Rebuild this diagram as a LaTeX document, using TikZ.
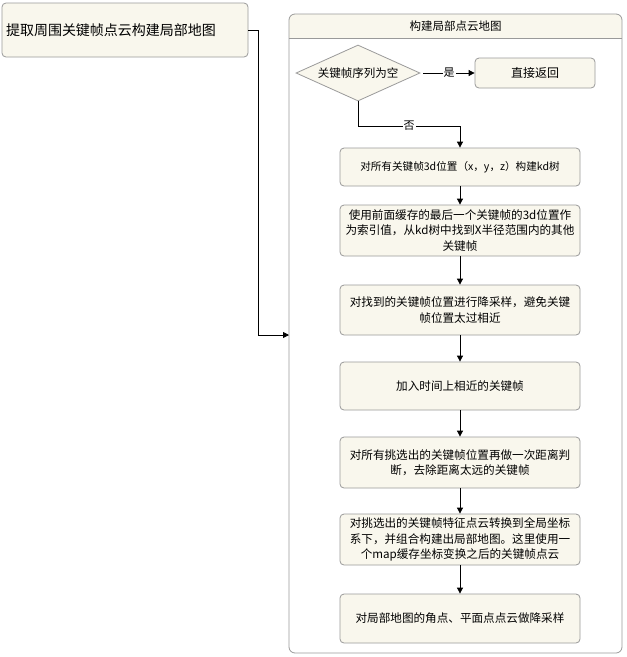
\documentclass[tikz,border=0pt]{standalone}
\usepackage{fontspec}
\setmainfont{Noto Sans CJK SC}
\usetikzlibrary{shapes.geometric,arrows.meta}
\definecolor{boxfill}{HTML}{F9F7ED}
\definecolor{boxline}{HTML}{9A9A9A}
\begin{document}
\begin{tikzpicture}[x=1pt,y=-1pt,
  box/.style={draw=boxline,fill=boxfill,rounded corners=4pt,line width=0.8pt,align=center,font=\fontsize{11.6}{15.5}\selectfont,inner sep=0pt},
  arr/.style={-{Triangle[length=6pt,width=6pt]},line width=0.8pt,black},
  lbl/.style={fill=white,inner sep=1pt,font=\fontsize{11}{12}\selectfont}]
\useasboundingbox (0,0) rectangle (627,657);
\fill[white] (0,0) rectangle (627,657);
% left box
\node[box,minimum width=246pt,minimum height=54pt,font=\fontsize{14}{16}\selectfont,text width=238pt,align=left] (left) at (125,30) {提取周围关键帧点云构建局部地图};
% container
\begin{scope}
\clip[rounded corners=6pt] (289,14) rectangle (622,653);
\fill[boxfill] (289,14) rectangle (622,38);
\end{scope}
\draw[boxline,line width=0.8pt,rounded corners=6pt] (289,14) rectangle (622,653);
\draw[boxline,line width=0.8pt] (289,38) -- (622,38);
\node[font=\fontsize{11.5}{12}\selectfont] (ctitle) at (455.5,26.5) {构建局部点云地图};
\coordinate (cin) at (289,335);
% diamond
\node[diamond,aspect=2.2,draw=boxline,fill=boxfill,line width=0.8pt,minimum width=124pt,minimum height=56pt,inner sep=0pt,font=\fontsize{11.5}{12}\selectfont] (dia) at (358,73) {关键帧序列为空};
\node[box,minimum width=120pt,minimum height=30pt,font=\fontsize{12}{13}\selectfont] (ret) at (535,73) {直接返回};
\node[box,minimum width=240pt,minimum height=38pt,font=\fontsize{10.6}{14}\selectfont] (b1) at (460,167) {对所有关键帧3d位置（x，y，z）构建kd树};
\node[box,minimum width=240pt,minimum height=51pt] (b2) at (460,230.5) {使用前面缓存的最后一个关键帧的3d位置作\\为索引值，从kd树中找到X半径范围内的其他\\关键帧};
\node[box,minimum width=240pt,minimum height=50pt] (b3) at (460,310) {对找到的关键帧位置进行降采样，避免关键\\帧位置太过相近};
\node[box,minimum width=240pt,minimum height=48pt] (b4) at (460,386) {加入时间上相近的关键帧};
\node[box,minimum width=240pt,minimum height=51pt] (b5) at (460,462.5) {对所有挑选出的关键帧位置再做一次距离判\\断，去除距离太远的关键帧};
\node[box,minimum width=240pt,minimum height=51pt] (b6) at (460,539.5) {对挑选出的关键帧特征点云转换到全局坐标\\系下，并组合构建出局部地图。这里使用一\\个map缓存坐标变换之后的关键帧点云};
\node[box,minimum width=240pt,minimum height=49pt] (b7) at (460,618.5) {对局部地图的角点、平面点点云做降采样};
% connectors
\draw[arr] (left.east) -- (258,30) -- (258,335) -- (cin);
\draw[arr] (dia.east) ++(3,0) -- node[lbl]{是} (ret.west);
\draw[arr] (dia.south) -- (358,126) -- node[lbl,pos=0.5]{否} (460,126) -- (b1.north);
\draw[arr] (b1) -- (b2);
\draw[arr] (b2) -- (b3);
\draw[arr] (b3) -- (b4);
\draw[arr] (b4) -- (b5);
\draw[arr] (b5) -- (b6);
\draw[arr] (b6) -- (b7);
\end{tikzpicture}
\end{document}
